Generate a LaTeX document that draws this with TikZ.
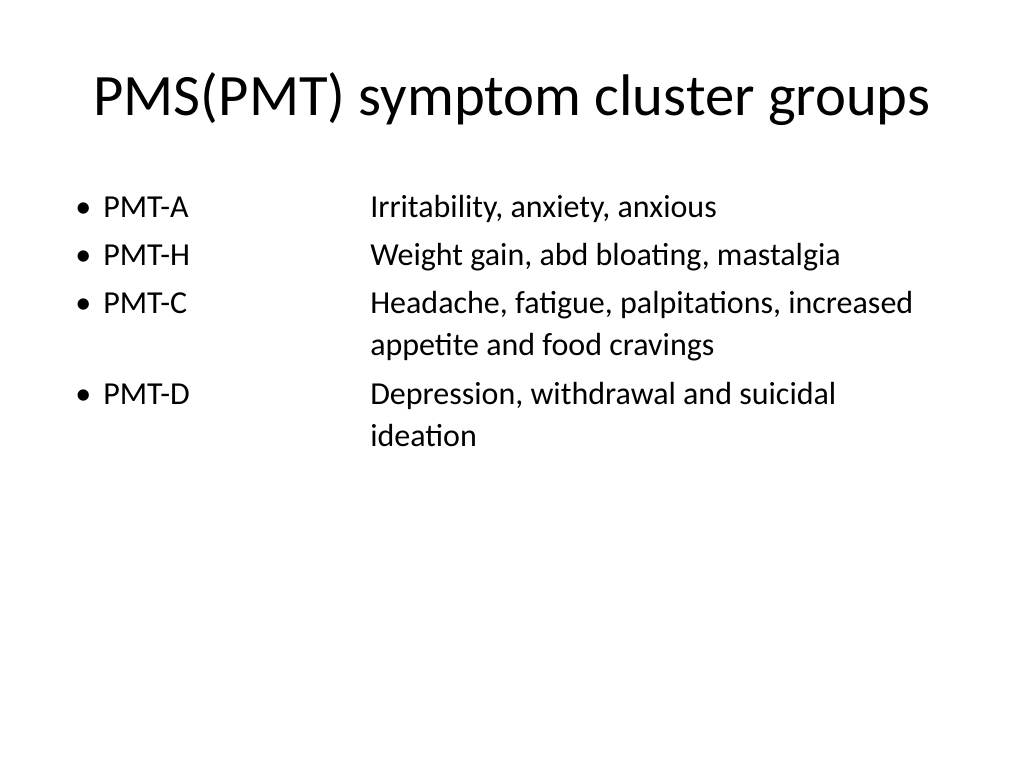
\documentclass[tikz,border=0pt]{standalone}
\usepackage{fontspec}
\setmainfont{Carlito}
\begin{document}
\begin{tikzpicture}[x=0.75pt,y=-0.75pt,
  txt/.style={anchor=base west,inner sep=0pt,font=\fontsize{24}{28}\selectfont},
  ttl/.style={anchor=base,inner sep=0pt,font=\fontsize{44}{50}\selectfont}]
\useasboundingbox (0,0) rectangle (1024,768);
\node[ttl] (title) at (512,115) {PMS(PMT) symptom cluster groups};
\foreach \n/\y/\a/\b in {a/217/PMT-A/{Irritability, anxiety, anxious},
  h/265/PMT-H/{Weight gain, abd bloating, mastalgia},
  c/313/PMT-C/{Headache, fatigue, palpitations, increased},
  d/404/PMT-D/{Depression, withdrawal and suicidal}}{
  \node[txt] (b\n) at (75,\y) {\textbullet};
  \node[txt] (k\n) at (103,\y) {\a};
  \node[txt] (v\n) at (370,\y) {\b};
}
\node[txt] (vc2) at (370,355) {appetite and food cravings};
\node[txt] (vd2) at (370,446) {ideation};
\end{tikzpicture}
\end{document}
